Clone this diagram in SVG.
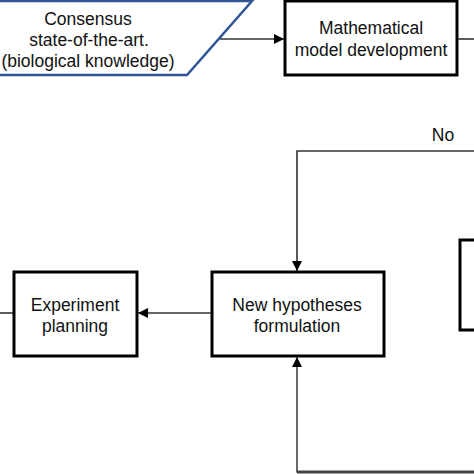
<svg xmlns="http://www.w3.org/2000/svg" width="474" height="474" viewBox="0 0 474 474">
<defs>
<marker id="ah" viewBox="0 0 10 10" refX="10" refY="5" markerWidth="10" markerHeight="10" markerUnits="userSpaceOnUse" orient="auto">
<path d="M0,0 L10,5 L0,10 z" fill="#000"/>
</marker>
<style>
.box{fill:#fff;stroke:#000;stroke-width:3}
.t{font-family:"Liberation Sans",Arial,sans-serif;font-size:17.5px;fill:#111;text-anchor:middle}
.c{fill:none;stroke:#333;stroke-width:1.6}
</style>
</defs>
<rect width="474" height="474" fill="#fff"/>
<g id="consensus">
<polygon points="-10,1 252,1 187,75 -10,75" fill="#fff" stroke="#2f5597" stroke-width="2.5"/>
<text class="t" x="88" y="25">Consensus</text>
<text class="t" x="89" y="46">state-of-the-art.</text>
<text class="t" x="88" y="67">(biological knowledge)</text>
</g>
<g id="math">
<rect class="box" x="285" y="1" width="172" height="74"/>
<text class="t" x="371" y="34">Mathematical</text>
<text class="t" x="371" y="56">model development</text>
</g>
<g id="right">
<rect class="box" x="460" y="240" width="30" height="90"/>
</g>
<g id="newhyp">
<rect class="box" x="212" y="272" width="172" height="84"/>
<text class="t" x="297" y="311">New hypotheses</text>
<text class="t" x="297" y="332">formulation</text>
</g>
<g id="exp">
<rect class="box" x="14" y="272" width="123" height="84"/>
<text class="t" x="75" y="311">Experiment</text>
<text class="t" x="75" y="332">planning</text>
</g>
<g id="connectors">
<line class="c" x1="220" y1="39" x2="284" y2="39" marker-end="url(#ah)"/>
<line class="c" x1="458" y1="39" x2="474" y2="39"/>
<polyline class="c" points="474,151 297,151 297,271" marker-end="url(#ah)"/>
<line class="c" x1="211" y1="313" x2="138" y2="313" marker-end="url(#ah)"/>
<line class="c" x1="0" y1="313" x2="13" y2="313"/>
<polyline class="c" points="474,472 297,472 297,357" marker-end="url(#ah)" style="stroke:#444"/>
<line x1="297" y1="472" x2="474" y2="472" stroke="#444" stroke-width="3"/>
<text class="t" x="443" y="141">No</text>
</g>
</svg>
